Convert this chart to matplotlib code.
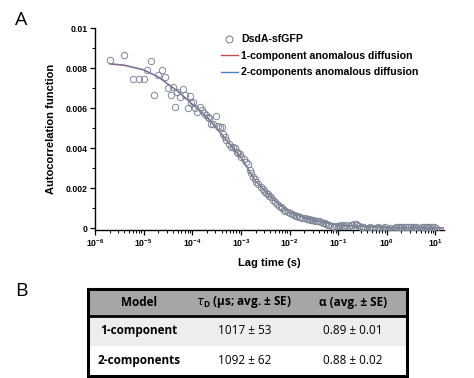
import matplotlib
matplotlib.use("Agg")
import matplotlib.pyplot as plt
from matplotlib.patches import Rectangle
from matplotlib.lines import Line2D
from matplotlib.ticker import LogLocator, MultipleLocator, FixedLocator

# lag times (microseconds), multiple-tau correlator channels
lag_us = [
    2, 4, 6, 8, 10, 12, 14, 16,
    20, 24, 28, 32, 36, 40, 44, 48,
    56, 64, 72, 80, 88, 96, 104, 112,
    128, 144, 160, 176, 192, 208, 224, 240,
    272, 304, 336, 368, 400, 432, 464, 496,
    560, 624, 688, 752, 816, 880, 944, 1008,
    1136, 1264, 1392, 1520, 1648, 1776, 1904, 2032,
    2288, 2544, 2800, 3056, 3312, 3568, 3824, 4080,
    4592, 5104, 5616, 6128, 6640, 7152, 7664, 8176,
    9200, 10224, 11248, 12272, 13296, 14320, 15344, 16368,
    18416, 20464, 22512, 24560, 26608, 28656, 30704, 32752,
    36848, 40944, 45040, 49136, 53232, 57328, 61424, 65520,
    73712, 81904, 90096, 98288, 106480, 114672, 122864, 131056,
    147440, 163824, 180208, 196592, 212976, 229360, 245744, 262128,
    294896, 327664, 360432, 393200, 425968, 458736, 491504, 524272,
    589808, 655344, 720880, 786416, 851952, 917488, 983024, 1048560,
    1179632, 1310704, 1441776, 1572848, 1703920, 1834992, 1966064, 2097136,
    2359280, 2621424, 2883568, 3145712, 3407856, 3670000, 3932144, 4194288,
    4718576, 5242864, 5767152, 6291440, 6815728, 7340016, 7864304, 8388592,
    9437168, 10485744,
]

# autocorrelation values (x 1e-4)
g_data = [
    84, 86.5, 74.3, 74.5, 74.5, 79, 83.5, 66.5,
    76.5, 79, 75.3, 69.8, 66.5, 70.7, 60.7, 68,
    65.7, 69.5, 66.5, 60, 66, 62.3, 63, 60,
    58.2, 60.7, 59, 57.3, 56.5, 55.7, 54.8, 52,
    52, 56, 51, 50.7, 50.3, 47, 45.7, 44,
    42, 40.7, 40.5, 39.8, 38.2, 37.3, 36.8, 35.7,
    34.3, 32.8, 32, 29, 27.3, 25.7, 24.5, 23.2,
    21.8, 20.7, 19.7, 18.7, 17.7, 16.8, 16, 15.3,
    14, 13, 12, 11.2, 10.5, 9.8, 9.2, 8.7,
    7.8, 7.3, 6.8, 6.5, 6.2, 5.8, 5.7, 5.3,
    5.2, 4.8, 4.7, 4.5, 4.2, 4, 3.8, 3.7,
    3.5, 3.3, 3, 2.7, 2.3, 2, 1.7, 1.3,
    1, 0.7, 1, 1.2, 0.8, 1.3, 1, 1.2,
    1.3, 1, 1.5, 1.7, 1.8, 2, 1.5, 1.2,
    0.3, 0.7, 0, -0.3, 0.2, 0.7, -0.3, 0,
    0.2, 0.5, -0.2, -0.5, 0, 0.3, -0.3, -0.7,
    -0.2, -0.5, 0.2, 0.7, 0.3, 0.5, 0.2, 0.3,
    0.5, 0.7, 0.3, 0.5, 0.2, 0.7, 0.3, 0,
    0.2, 0.5, 0.3, 0.7, 0.5, 0.2, 0.3, 0.5,
    0.3, 0.2,
]

# fitted curves
fit_t = [2e-6, 4e-6, 1e-5, 2e-5, 5e-5, 1e-4, 2e-4, 5e-4, 1e-3, 2e-3,
         5e-3, 1e-2, 3e-2, 1e-1, 1, 10, 15]
fit_1comp = [82, 81.3, 79, 75.5, 68.5, 62, 55.5, 44, 35.5, 23.5,
             13.5, 7.7, 4, 1.4, 0.2, 0, 0]
fit_2comp = [82.3, 81.5, 79.2, 75.6, 68.4, 61.8, 55.5, 44.2, 35.4, 23.4,
             13.6, 7.8, 4, 1.4, 0.2, 0, 0]

table_header = ["Model", r"$\tau_\mathregular{D}$ (µs; avg. ± SE)", "α (avg. ± SE)"]
table_rows = [
    ["1-component", "1017 ± 53", "0.89 ± 0.01"],
    ["2-components", "1092 ± 62", "0.88 ± 0.02"],
]

plt.rcParams["font.family"] = ["Liberation Sans", "DejaVu Sans"]
plt.rcParams["mathtext.fontset"] = "custom"
plt.rcParams["mathtext.rm"] = "Open Sans"

fig = plt.figure(figsize=(4.74, 3.78), dpi=100)
ax = fig.add_axes([95 / 474, 148 / 378, 349 / 474, 202 / 378])

t = [v * 1e-6 for v in lag_us]
g = [v * 1e-4 for v in g_data]

ax.plot(fit_t, [v * 1e-4 for v in fit_1comp], color="#b05a6a", lw=0.9, zorder=2)
ax.plot(fit_t, [v * 1e-4 for v in fit_2comp], color="#4f6fa8", lw=0.9, alpha=0.7, zorder=2)
ax.plot(t, g, "o", ms=4.6, mfc="none", mec="#7f8797", mew=0.7, zorder=3)

ax.set_xscale("log")
ax.set_xlim(1e-6, 15)
ax.set_ylim(-0.0001, 0.01)
ax.xaxis.set_major_locator(FixedLocator([1e-6, 1e-5, 1e-4, 1e-3, 1e-2, 1e-1, 1, 10]))
ax.xaxis.set_minor_locator(LogLocator(base=10, subs=range(2, 10), numticks=20))
ax.yaxis.set_major_locator(FixedLocator([0, 0.002, 0.004, 0.006, 0.008, 0.01]))
ax.yaxis.set_minor_locator(MultipleLocator(0.001))
ax.set_yticklabels(["0", "0.002", "0.004", "0.006", "0.008", "0.01"])
ax.tick_params(which="major", direction="out", length=3.5, width=0.9, labelsize=6.2, pad=2)
ax.tick_params(which="minor", direction="out", length=2, width=0.7)
for lab in ax.get_xticklabels() + ax.get_yticklabels():
    lab.set_fontweight("bold")
for s in ["top", "right"]:
    ax.spines[s].set_visible(False)
for s in ["left", "bottom"]:
    ax.spines[s].set_linewidth(1.0)

ax.set_ylabel("Autocorrelation function", fontsize=8, fontweight="bold", labelpad=7)
ax.set_xlabel("Lag time (s)", fontsize=8, fontweight="bold", labelpad=6)

handles = [
    Line2D([], [], ls="none", marker="o", ms=5, mfc="none", mec="#7f8797", mew=0.8),
    Line2D([], [], color="#c0504d", lw=1),
    Line2D([], [], color="#4f81bd", lw=1),
]
ax.legend(handles, ["DsdA-sfGFP", "1-component anomalous diffusion",
                    "2-components anomalous diffusion"],
          loc="upper left", bbox_to_anchor=(0.34, 1.005), frameon=False,
          prop={"weight": "bold", "size": 7.6}, handlelength=1.6,
          handletextpad=0.3, labelspacing=0.62, borderpad=0.2)

fig.text(21 / 474, 1 - 20 / 378, "A", fontsize=14, ha="center", va="center",
         family="Open Sans")
fig.text(21 / 474, 1 - 291 / 378, "B", fontsize=14, ha="center", va="center",
         family="Open Sans")

# table B
tab = fig.add_axes([88 / 474, 2 / 378, 319 / 474, 87 / 378])
tab.set_xlim(0, 1)
tab.set_ylim(0, 1)
tab.axis("off")
row_edges = [1.0, 0.69, 0.345, 0.0]
row_colors = ["#a6a6a6", "#ededed", "#ffffff"]
col_centers = [0.16, 0.49, 0.83]
for i in range(3):
    tab.add_patch(Rectangle((0, row_edges[i + 1]), 1, row_edges[i] - row_edges[i + 1],
                            facecolor=row_colors[i], edgecolor="none"))
tab.plot([0, 1], [row_edges[1], row_edges[1]], color="black", lw=2)
tab.add_patch(Rectangle((0, 0), 1, 1, facecolor="none", edgecolor="black", lw=2.2,
                        clip_on=False))
for j, txt in enumerate(table_header):
    tab.text(col_centers[j], (row_edges[0] + row_edges[1]) / 2, txt, ha="center",
             va="center", fontsize=8.5, fontweight="bold", family=["Open Sans", "DejaVu Sans"])
for i, row in enumerate(table_rows):
    yc = (row_edges[i + 1] + row_edges[i + 2]) / 2
    for j, txt in enumerate(row):
        tab.text(col_centers[j], yc, txt, ha="center", va="center", fontsize=8.5,
                 fontweight="bold" if j == 0 else "normal",
                 family=["Open Sans", "DejaVu Sans"])

fig.savefig("out.png", dpi=100)
